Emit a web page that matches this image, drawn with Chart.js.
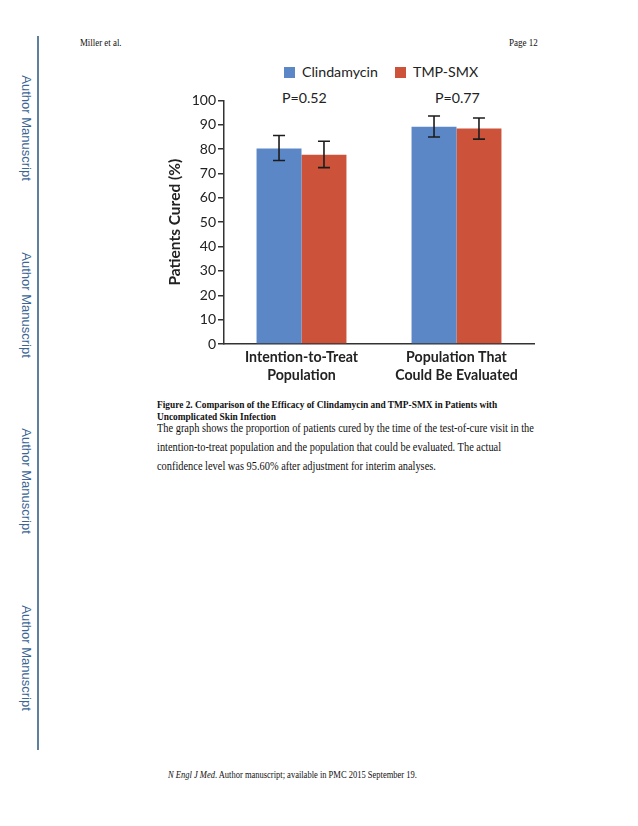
<!DOCTYPE html>
<html>
<head>
<meta charset="utf-8">
<script src="https://cdn.jsdelivr.net/npm/chart.js@4"></script>
<style>
    body { margin: 0; background: #fff; width: 638px; height: 826px; position: relative; overflow: hidden; }
    .abs { position: absolute; white-space: nowrap; }
    .serif { font-family: "Liberation Serif", "Times New Roman", serif; color: #111; transform: scaleX(0.86); transform-origin: left top; }
    .sans { font-family: Lato, sans-serif; color: #222; }
    .side { position: absolute; left: 37px; top: 36px; width: 2px; height: 714px; background: #5f7f9f; }
    .am {
        position: absolute; left: 26px; font-family: "Liberation Sans", Arial, sans-serif;
        font-size: 13px; color: #3a6594; transform: translate(-50%, -50%) rotate(90deg); white-space: nowrap;
    }
    .sq { display: inline-block; width: 11px; height: 11px; vertical-align: -1px; margin-right: 7px; }
    #wrap { position: absolute; left: 160px; top: 90px; width: 390px; height: 300px; }
</style>
</head>
<body>
<div class="side"></div>
<div class="am" style="top:128px">Author Manuscript</div>
<div class="am" style="top:305px">Author Manuscript</div>
<div class="am" style="top:481px">Author Manuscript</div>
<div class="am" style="top:658px">Author Manuscript</div>

<div class="abs serif" style="left:80px; top:37px; font-size:10.3px;">Miller et al.</div>
<div class="abs serif" style="left:509px; top:37px; font-size:10.5px;">Page 12</div>

<div class="abs sans" style="left:284px; top:63px; font-size:14.2px;"><span class="sq" style="background:#5b87c6"></span>Clindamycin</div>
<div class="abs sans" style="left:395px; top:63px; font-size:14.2px;"><span class="sq" style="background:#cc533a"></span>TMP-SMX</div>
<div class="abs sans" style="left:282px; top:89px; font-size:14.2px;">P=0.52</div>
<div class="abs sans" style="left:435px; top:89px; font-size:14.2px;">P=0.77</div>

<div id="wrap"><canvas id="cureChart"></canvas></div>

<div class="abs serif" style="left:157px; top:398px; font-size:11px; font-weight:bold; line-height:12px; transform: scaleX(0.85);">
    Figure 2. Comparison of the Efficacy of Clindamycin and TMP-SMX in Patients with<br>Uncomplicated Skin Infection
</div>
<div class="abs serif" style="left:157px; top:419px; font-size:12.5px; line-height:19px; transform: scaleX(0.83);">
    The graph shows the proportion of patients cured by the time of the test-of-cure visit in the<br>
    intention-to-treat population and the population that could be evaluated. The actual<br>
    confidence level was 95.60% after adjustment for interim analyses.
</div>

<div class="abs serif" style="left:168px; top:769px; font-size:9.9px;"><i>N Engl J Med</i>. Author manuscript; available in PMC 2015 September 19.</div>

<script>
// Data
const categories = [['Intention-to-Treat', 'Population'], ['Population That', 'Could Be Evaluated']];
const clindaCured = [80.3, 89.2];
const clindaLow = [75.3, 85.0];
const clindaHigh = [85.6, 93.6];
const tmpCured = [77.7, 88.5];
const tmpLow = [72.4, 84.1];
const tmpHigh = [83.2, 92.8];
const yTicks = [0, 10, 20, 30, 40, 50, 60, 70, 80, 90, 100];

const errorBars = {
    id: 'errorBars',
    afterDatasetsDraw(chart) {
        const { ctx, scales: { y } } = chart;
        chart.data.datasets.forEach((ds, di) => {
            const meta = chart.getDatasetMeta(di);
            meta.data.forEach((bar, i) => {
                const top = y.getPixelForValue(ds.hi[i]);
                const bot = y.getPixelForValue(ds.lo[i]);
                ctx.save();
                ctx.strokeStyle = '#1c1c1c';
                ctx.lineWidth = 1.6;
                ctx.beginPath();
                ctx.moveTo(bar.x, top); ctx.lineTo(bar.x, bot);
                ctx.moveTo(bar.x - 6, top); ctx.lineTo(bar.x + 6, top);
                ctx.moveTo(bar.x - 6, bot); ctx.lineTo(bar.x + 6, bot);
                ctx.stroke();
                ctx.restore();
            });
        });
    }
};

new Chart(document.getElementById('cureChart'), {
    type: 'bar',
    data: {
        labels: categories,
        datasets: [
            { label: 'Clindamycin', data: clindaCured, lo: clindaLow, hi: clindaHigh, backgroundColor: '#5b87c6' },
            { label: 'TMP-SMX', data: tmpCured, lo: tmpLow, hi: tmpHigh, backgroundColor: '#cc533a' }
        ]
    },
    options: {
        responsive: true,
        maintainAspectRatio: false,
        animation: false,
        categoryPercentage: 0.58,
        barPercentage: 1.0,
        layout: { padding: { top: 9, right: 16, left: 6, bottom: 0 } },
        plugins: { legend: { display: false }, tooltip: { enabled: false } },
        scales: {
            x: {
                grid: { display: false, drawTicks: false },
                border: { color: '#333', width: 1.5 },
                ticks: { color: '#222', padding: 4, font: { family: 'Lato', size: 14.2, weight: 'bold', lineHeight: 1.28 } },
                afterFit: s => { s.height = 46; }
            },
            y: {
                min: 0, max: 100,
                afterBuildTicks: s => { s.ticks = yTicks.map(v => ({ value: v })); },
                grid: { drawOnChartArea: false, tickLength: 6, color: '#333', lineWidth: 1.5 },
                border: { color: '#333', width: 1.5 },
                ticks: { color: '#222', padding: 2, font: { family: 'Lato', size: 14 } },
                title: { display: true, text: 'Patients Cured (%)', color: '#222', padding: 0, font: { family: 'Lato', size: 15.5, weight: 'bold' } },
                afterFit: s => { s.width = 58; }
            }
        }
    },
    plugins: [errorBars]
});
</script>
</body>
</html>
